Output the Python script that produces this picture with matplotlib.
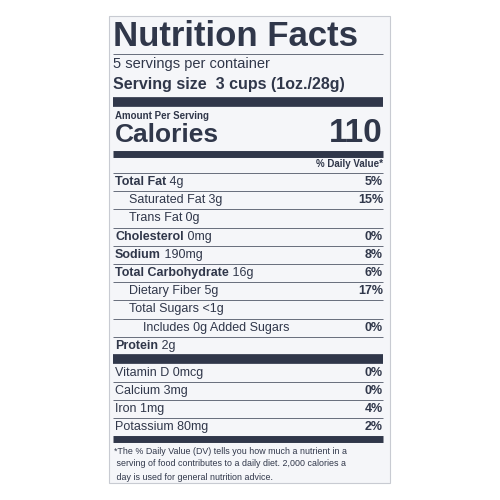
import matplotlib
matplotlib.use("Agg")
import matplotlib.pyplot as plt

INK = "#30374a"
BG = "#f5f6f9"

servings = "5 servings per container"
serving_size = "Serving size  3 cups (1oz./28g)"
calories = "110"

# name, amount, daily value, bold name, indent, y row
nutrients = ["Total Fat", "Saturated Fat", "Trans Fat", "Cholesterol", "Sodium",
             "Total Carbohydrate", "Dietary Fiber", "Total Sugars",
             "Includes 0g Added Sugars", "Protein"]
amounts = ["4g", "3g", "0g", "0mg", "190mg", "16g", "5g", "<1g", "", "2g"]
dv = ["5%", "15%", "", "0%", "8%", "6%", "17%", "", "0%", ""]
bold_name = [True, False, False, True, True, True, False, False, False, True]
indent = [0, 1, 1, 0, 0, 0, 1, 1, 2, 0]

vitamins = ["Vitamin D", "Calcium", "Iron", "Potassium"]
vit_amounts = ["0mcg", "3mg", "1mg", "80mg"]
vit_dv = ["0%", "0%", "4%", "2%"]

footnote = ["*The % Daily Value (DV) tells you how much a nutrient in a",
            " serving of food contributes to a daily diet. 2,000 calories a",
            " day is used for general nutrition advice."]

plt.rcParams['font.family'] = ['Liberation Sans', 'DejaVu Sans']
fig = plt.figure(figsize=(5, 5), dpi=100)
ax = fig.add_axes([0, 0, 1, 1])
ax.set_xlim(0, 500)
ax.set_ylim(500, 0)
ax.axis('off')

L, R = 113, 383
ax.add_patch(plt.Rectangle((109, 16), 281, 467, facecolor=BG, edgecolor="#c8cbd2", lw=0.8))

def hline(y, w):
    ax.plot([L, R], [y, y], color=INK, lw=w, solid_capstyle='butt')

ax.text(L, 37, "Nutrition Facts", fontsize=25, fontweight='bold', color=INK, va='center')
hline(54, 0.5)
ax.text(L, 64, servings, fontsize=10.5, color=INK, va='center')
ax.text(L, 84, serving_size, fontsize=11.5, fontweight='bold', color=INK, va='center')
hline(102, 7)
ax.text(L + 2, 116, "Amount Per Serving", fontsize=7, fontweight='bold', color=INK, va='center')
ax.text(L + 2, 135, "Calories", fontsize=19, fontweight='bold', color=INK, va='center')
ax.text(R, 133, calories, fontsize=24, fontweight='bold', color=INK, va='center', ha='right')
hline(154, 5)
ax.text(R, 164, "% Daily Value*", fontsize=7, fontweight='bold', color=INK, va='center', ha='right')

y0, step = 182, 18.2
for i, name in enumerate(nutrients):
    y = y0 + i * step
    hline(y - step / 2, 0.5)
    x = L + 2 + indent[i] * 14
    t = ax.text(x, y, name, fontsize=9, fontweight='bold' if bold_name[i] else 'normal',
                color=INK, va='center')
    if amounts[i]:
        ax.annotate(" " + amounts[i], xycoords=t, xy=(1, 0.5), va='center', fontsize=9, color=INK)
    if dv[i]:
        ax.text(R, y, dv[i], fontsize=9, fontweight='bold', color=INK, va='center', ha='right')
hline(359, 7)

v0 = 373
for i, name in enumerate(vitamins):
    y = v0 + i * 18
    if i:
        hline(y - 9, 0.5)
    ax.text(L + 2, y, name + " " + vit_amounts[i], fontsize=9, color=INK, va='center')
    ax.text(R, y, vit_dv[i], fontsize=9, fontweight='bold', color=INK, va='center', ha='right')
hline(439, 5)

for i, line in enumerate(footnote):
    ax.text(L + 1, 451 + i * 13, line, fontsize=6.4, color=INK, va='center')

fig.savefig("out.png", dpi=100, facecolor="white")
